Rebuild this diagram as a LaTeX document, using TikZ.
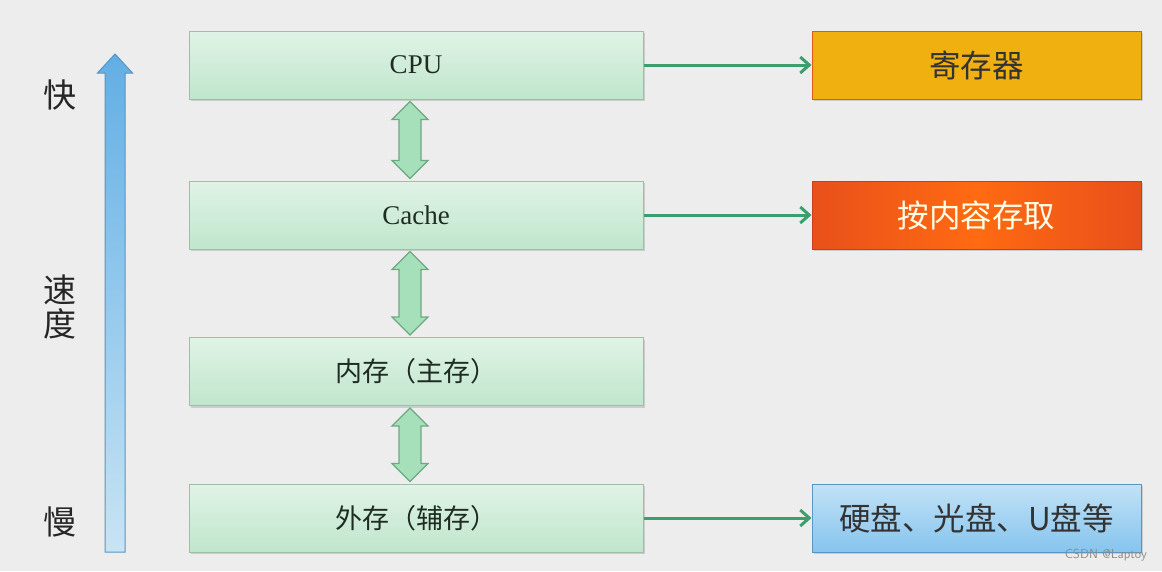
\documentclass[tikz,border=0pt]{standalone}
\usepackage{fontspec}
\setmainfont{Liberation Serif}
\newfontfamily\cjk{Noto Sans CJK SC}
\usetikzlibrary{calc,shadows,arrows.meta}
\definecolor{bg}{HTML}{EDEDED}
\definecolor{gtop}{HTML}{E0F3E6}
\definecolor{gbot}{HTML}{C0E6CC}
\definecolor{gborder}{HTML}{A2BCAA}
\definecolor{gtext}{HTML}{1E2C22}
\definecolor{garrow}{HTML}{3C9E6C}
\definecolor{dfill}{HTML}{A6E0BA}
\definecolor{dborder}{HTML}{6EA882}
\definecolor{yfill}{HTML}{F0B010}
\definecolor{yborder}{HTML}{E05A1E}
\definecolor{rtop}{HTML}{E8501A}
\definecolor{rmid}{HTML}{FF6A12}
\definecolor{rborder}{HTML}{C8401A}
\definecolor{btop}{HTML}{C2E2F6}
\definecolor{bbot}{HTML}{86C4EE}
\definecolor{bborder}{HTML}{5A96C4}
\definecolor{uptop}{HTML}{62AEE4}
\definecolor{upbot}{HTML}{C8E4F4}
\definecolor{upborder}{HTML}{5A94C0}
\begin{document}
\begin{tikzpicture}[x=1pt,y=-1pt,
  membox/.style={draw=gborder, line width=1pt, top color=gtop, bottom color=gbot,
    minimum width=454pt, minimum height=68pt, inner sep=0pt, text=gtext,
    drop shadow={shadow xshift=2pt, shadow yshift=-2pt, opacity=0.3}},
  sidebox/.style={line width=1pt, minimum width=329pt, minimum height=68pt, inner sep=0pt,
    font=\cjk\fontsize{31.5}{33}\selectfont,
    drop shadow={shadow xshift=2pt, shadow yshift=-2pt, opacity=0.3}},
  conn/.style={draw=garrow, line width=3pt, -{Straight Barb[length=9pt,width=16pt,line width=3pt]}},
  dbl/.style={draw=dborder, fill=dfill, line width=1.2pt, line join=miter},
  side/.style={font=\cjk\fontsize{33}{35}\selectfont, text=black!85, inner sep=0pt},
  lat/.style={font=\fontsize{27}{30}\selectfont},
  cjt/.style={font=\cjk\fontsize{27}{30}\selectfont}
]
\useasboundingbox[fill=bg] (0,0) rectangle (1162,571);

% speed arrow
\draw[upborder, line width=1pt, top color=uptop, bottom color=upbot, shading angle=0]
  (115,54) -- (132.5,73) -- (125,73) -- (125,552) -- (105,552) -- (105,73) -- (97.5,73) -- cycle;

\node[side] (fast) at (60,95) {快};
\node[side] (su) at (60,290) {速};
\node[side] (du) at (60,324) {度};
\node[side] (slow) at (60,522) {慢};

% memory hierarchy
\node[membox, lat] (cpu) at (416,65) {CPU};
\node[membox, lat] (cache) at (416,215) {Cache};
\node[membox, cjt] (mem) at (416,371.5) {内存（主存）};
\node[membox, cjt] (ext) at (416,518) {外存（辅存）};

% side boxes
\node[sidebox, draw=yborder, fill=yfill, text=black!80] (reg) at (976.5,65) {寄存器};
\node[sidebox, draw=rborder, left color=rtop, right color=rtop, middle color=rmid, text=white!90!yellow] (cam) at (976.5,215) {按内容存取};
\node[sidebox, draw=bborder, top color=btop, bottom color=bbot, text=black!80] (disk) at (976.5,518) {硬盘、光盘、U盘等};

% connectors
\draw[conn] (cpu.east) -- (reg.west);
\draw[conn] (cache.east) -- (cam.west);
\draw[conn] (ext.east) -- (disk.west);

\newcommand\vdblarrow[2]{%
  \draw[dbl] let \p1=($(#1.south)+(-6,2)$), \p2=($(#2.north)+(-6,-2)$) in
    (\x1,\y1) -- (\x1+18,\y1-18) -- (\x1+11,\y1-18) -- (\x1+11,\y2+18) -- (\x1+18,\y2+18)
    -- (\x1,\y2) -- (\x1-18,\y2+18) -- (\x1-11,\y2+18) -- (\x1-11,\y1-18) -- (\x1-18,\y1-18) -- cycle;}
\vdblarrow{cpu}{cache}
\vdblarrow{cache}{mem}
\vdblarrow{mem}{ext}

\node[font=\fontsize{13}{14}\selectfont\sffamily, text=black!45, anchor=east, inner sep=0pt] (wm) at (1147,555) {CSDN @Laptoy};
\end{tikzpicture}
\end{document}
